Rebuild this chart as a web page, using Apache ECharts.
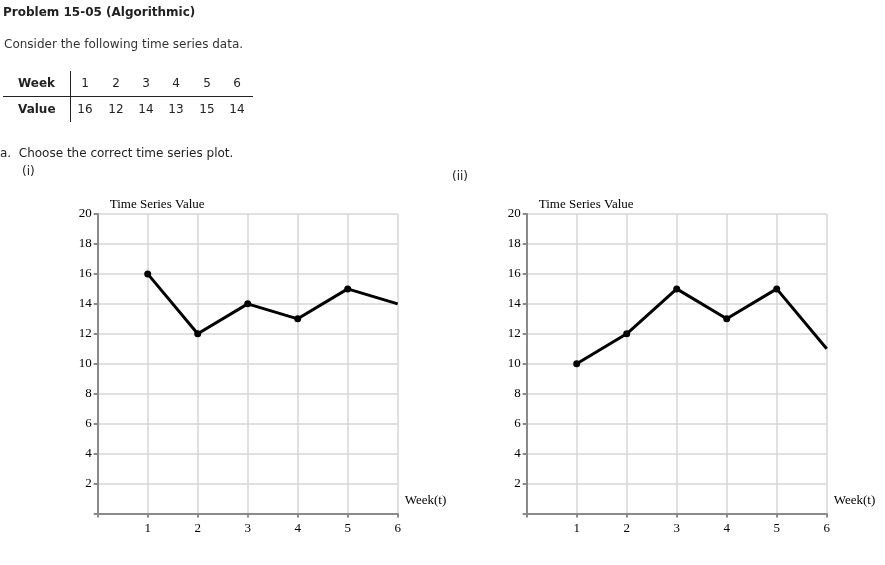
<!DOCTYPE html>
<html>
<head>
<meta charset="utf-8">
<script src="https://cdn.jsdelivr.net/npm/echarts@6/dist/echarts.min.js"></script>
<style>
html,body{margin:0;padding:0;background:#fff;}
#chart{width:885px;height:565px;}
</style>
</head>
<body>
<div id="chart"></div>
<script>
// ---- data ----
const weeks = [1, 2, 3, 4, 5, 6];
const tableValues = [16, 12, 14, 13, 15, 14];
const plotIValues = [16, 12, 14, 13, 15, 14];
const plotIIValues = [10, 12, 15, 13, 15, 11];
const yMin = 0, yMax = 20, yStep = 2;
const xMin = 0, xMax = 6, xStep = 1;
const headerTitle = 'Problem 15-05 (Algorithmic)';
const headerIntro = 'Consider the following time series data.';
const questionText = 'a.  Choose the correct time series plot.';
const plotLabels = ['(i)', '(ii)'];
const yAxisName = 'Time Series Value';
const xAxisName = 'Week(t)';

const serif = 'Liberation Serif';
const sans = 'DejaVu Sans';
const axisGray = '#8a8a8a';
const gridGray = '#d6d6d6';

function buildData(vals) {
  return weeks.map((w, i) => {
    const item = { value: [w, vals[i]] };
    if (w === xMax) item.symbol = 'none';
    return item;
  });
}

const grids = [
  { left: 97.7, top: 214, width: 300, height: 299.5 },
  { left: 526.7, top: 214, width: 300, height: 299.5 }
];

function xAxisFor(idx) {
  return {
    gridIndex: idx, type: 'value', min: xMin, max: xMax, interval: xStep,
    name: xAxisName, nameLocation: 'end', nameGap: 7,
    nameTextStyle: { fontFamily: serif, fontSize: 13, color: '#000', verticalAlign: 'bottom', padding: [0, 0, 6, 0] },
    axisLine: { show: true, onZero: false, lineStyle: { color: axisGray, width: 2 } },
    axisTick: { show: true, length: 4, lineStyle: { color: axisGray, width: 2 } },
    axisLabel: { margin: 9, fontFamily: serif, fontSize: 13, color: '#000', formatter: v => v === 0 ? '' : String(v) },
    splitLine: { show: true, lineStyle: { color: gridGray, width: 1.5 } }
  };
}
function yAxisFor(idx) {
  return {
    gridIndex: idx, type: 'value', min: yMin, max: yMax, interval: yStep,
    name: yAxisName, nameLocation: 'end', nameGap: 3,
    nameTextStyle: { fontFamily: serif, fontSize: 13, color: '#000', align: 'left', padding: [0, 0, 0, 12] },
    axisLine: { show: true, onZero: false, lineStyle: { color: axisGray, width: 2 } },
    axisTick: { show: true, length: 4, lineStyle: { color: axisGray, width: 2 } },
    axisLabel: { margin: 6, fontFamily: serif, fontSize: 13, color: '#000', formatter: v => v === 0 ? '' : String(v) },
    splitLine: { show: true, lineStyle: { color: gridGray, width: 1.5 } }
  };
}

function lineSeries(idx, vals) {
  return {
    type: 'line', xAxisIndex: idx, yAxisIndex: idx,
    data: buildData(vals), clip: true,
    symbol: 'circle', symbolSize: 7,
    lineStyle: { color: '#000', width: 3 },
    itemStyle: { color: '#000' },
    animation: false, silent: true
  };
}

// header / table graphics
const colX = [85, 116, 146, 176, 207, 237];
const graphics = [
  { type: 'text', left: 3, top: 7, style: { text: headerTitle, font: 'bold 12px "' + sans + '"', fill: '#222' } },
  { type: 'text', left: 4, top: 39, style: { text: headerIntro, font: '12px "' + sans + '"', fill: '#333' } },
  { type: 'text', left: 18, top: 78, style: { text: 'Week', font: 'bold 12px "' + sans + '"', fill: '#222' } },
  { type: 'text', left: 18, top: 104, style: { text: 'Value', font: 'bold 12px "' + sans + '"', fill: '#222' } },
  { type: 'line', shape: { x1: 3, y1: 96.5, x2: 253, y2: 96.5 }, style: { stroke: '#222', lineWidth: 1 } },
  { type: 'line', shape: { x1: 70.5, y1: 71, x2: 70.5, y2: 122 }, style: { stroke: '#222', lineWidth: 1 } },
  { type: 'text', left: 0, top: 148, style: { text: questionText, font: '12px "' + sans + '"', fill: '#222' } },
  { type: 'text', left: 22, top: 166, style: { text: plotLabels[0], font: '12px "' + sans + '"', fill: '#222' } },
  { type: 'text', left: 452, top: 171, style: { text: plotLabels[1], font: '12px "' + sans + '"', fill: '#222' } }
];
weeks.forEach((w, i) => {
  graphics.push({ type: 'text', x: colX[i], y: 84, style: { text: String(w), font: '12px "' + sans + '"', fill: '#222', align: 'center', verticalAlign: 'middle' } });
  graphics.push({ type: 'text', x: colX[i], y: 110, style: { text: String(tableValues[i]), font: '12px "' + sans + '"', fill: '#222', align: 'center', verticalAlign: 'middle' } });
});

const chart = echarts.init(document.getElementById('chart'), null, { renderer: 'canvas' });
chart.setOption({
  animation: false,
  backgroundColor: '#fff',
  grid: grids,
  xAxis: [xAxisFor(0), xAxisFor(1)],
  yAxis: [yAxisFor(0), yAxisFor(1)],
  series: [lineSeries(0, plotIValues), lineSeries(1, plotIIValues)],
  graphic: graphics
});
</script>
</body>
</html>
